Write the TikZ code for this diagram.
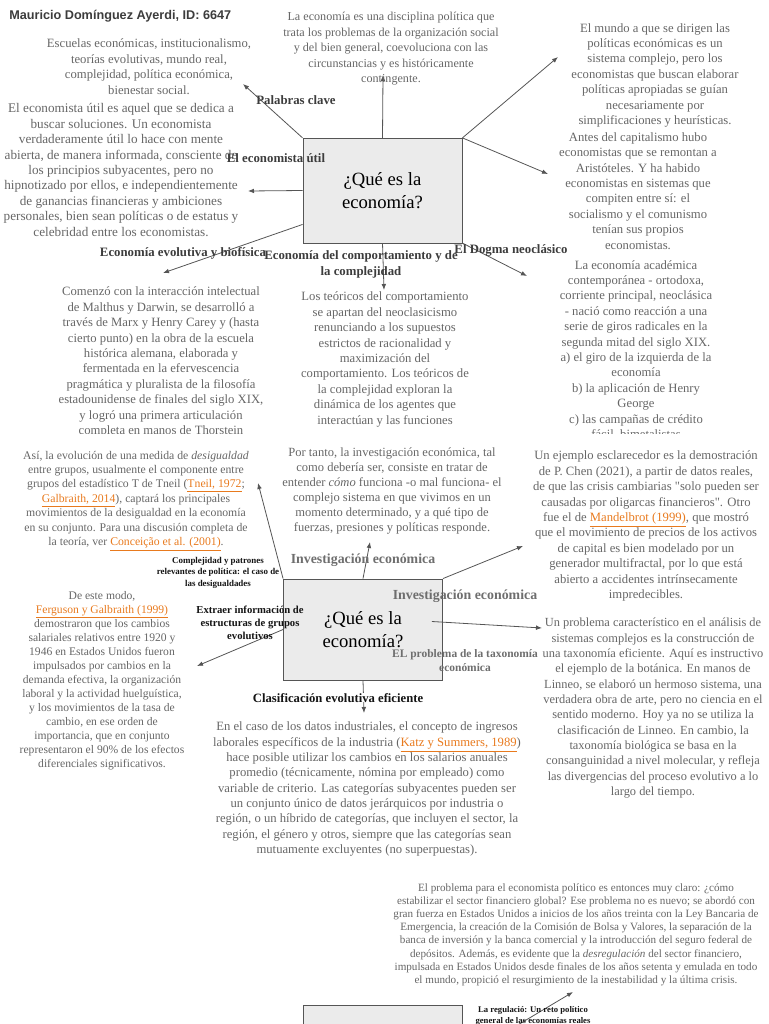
\documentclass[tikz,border=0pt]{standalone}
\usepackage{fontspec}
\setmainfont{Liberation Serif}
\newfontfamily\titlefont{Liberation Sans}
\usepackage{tikz}
\usetikzlibrary{arrows.meta,positioning,calc}
\definecolor{ecoText}{RGB}{102,102,102}
\definecolor{ecoKey}{RGB}{60,60,60}
\definecolor{ecoGris}{RGB}{110,110,110}
\definecolor{ecoDark}{RGB}{20,20,20}
\definecolor{ecoLink}{RGB}{232,122,30}
\definecolor{ecoFill}{RGB}{235,235,235}
\definecolor{ecoLine}{RGB}{85,85,85}
\newcommand{\enlace}[1]{\textcolor{ecoLink}{\underline{#1}}}

\begin{document}
\begin{tikzpicture}[x=0.75pt, y=-0.75pt,
    qbox/.style={draw=ecoLine, fill=ecoFill, minimum width=119.5pt, minimum height=78.5pt, inner sep=0, align=center, font=\fontsize{14}{17}\selectfont},
    txt/.style={inner sep=0, anchor=base, align=center, text=ecoText, font=\fontsize{9.5}{11.55}\selectfont},
    lbl/.style={inner sep=0, anchor=base, align=center, text=ecoKey, font=\bfseries\fontsize{9.6}{11.3}\selectfont},
    grislbl/.style={lbl, text=ecoGris, font=\bfseries\fontsize{10.4}{11.3}\selectfont},
    tinylbl/.style={lbl, text=ecoDark, font=\bfseries\fontsize{6.7}{8.6}\selectfont},
    arrow/.style={-{Latex[length=4.5pt,width=3.5pt]}, line width=0.6pt, ecoLine}
  ]
  \useasboundingbox (0,0) rectangle (768,1024);
  \clip (0,0) rectangle (768,1024);

  \node[anchor=base west, inner sep=0, text=ecoKey, font=\titlefont\bfseries\fontsize{9.5}{11}\selectfont] (autor) at (9,20) {Mauricio Domínguez Ayerdi, ID: 6647};

  \node[qbox] (q1) at (382.5,190.5) {¿Qué es la\\economía?};
  \node[qbox, minimum height=76pt] (q2) at (363,629.5) {¿Qué es la\\economía?};
  \node[qbox] (q3) at (382.5,1058) {};

  \coordinate (kwtip) at (243,84);
  \coordinate (deftip) at (383,75);
  \coordinate (mundotip) at (558,57);
  \coordinate (antestip) at (548,174);
  \coordinate (utiltip) at (248,191);
  \coordinate (evoltip) at (163,273);
  \coordinate (comptip) at (384,290);
  \coordinate (dogmatip) at (527,276);
  \coordinate (desigtip) at (258,483);
  \coordinate (invtip1) at (370,542);
  \coordinate (invtip2) at (523,546);
  \coordinate (taxsrc) at ($(q2.east)+(-11,-8)$);
  \coordinate (taxtip) at (542,628);
  \coordinate (grupotip) at (197,666);
  \coordinate (clastip) at (364,713);
  \coordinate (regtip) at (573,992);

  \draw[arrow] (q1.north west) -- (kwtip);
  \draw[arrow] (q1.north) -- (deftip);
  \draw[arrow] (q1.north east) -- (mundotip);
  \draw[arrow] (q1.north east) -- (antestip);
  \draw[arrow] (q1.west) -- (utiltip);
  \draw[arrow] (q1.203) -- (evoltip);
  \draw[arrow] (q1.south) -- (comptip);
  \draw[arrow] (q1.south east) -- (dogmatip);
  \draw[arrow] (q2.north west) -- (desigtip);
  \draw[arrow] (q2.north) -- (invtip1);
  \draw[arrow] (q2.north east) -- (invtip2);
  \draw[arrow] (taxsrc) -- (taxtip);
  \draw[arrow] (q2.west) -- (grupotip);
  \draw[arrow] (q2.south) -- (clastip);
  \draw[arrow] (q3.east) -- (regtip);

  \node[txt] (kwtext) at (149,94) {Escuelas económicas, institucionalismo,\\teorías evolutivas, mundo real,\\complejidad, política económica,\\bienestar social.};
  \node[txt, font=\fontsize{9.9}{11.55}\selectfont] (utiltext) at (121,236) {El economista útil es aquel que se dedica a\\buscar soluciones. Un economista\\verdaderamente útil lo hace con mente\\abierta, de manera informada, consciente de\\los principios subyacentes, pero no\\hipnotizado por ellos, e independientemente\\de ganancias financieras y ambiciones\\personales, bien sean políticas o de estatus y\\celebridad entre los economistas.};
  \node[txt, font=\fontsize{9.1}{11.55}\selectfont] (deftext) at (391,82.5) {La economía es una disciplina política que\\trata los problemas de la organización social\\y del bien general, coevoluciona con las\\circunstancias y es históricamente\\contingente.};
  \node[txt] (mundotext) at (655,124.5) {El mundo a que se dirigen las\\políticas económicas es un\\sistema complejo, pero los\\economistas que buscan elaborar\\políticas apropiadas se guían\\necesariamente por\\simplificaciones y heurísticas.};
  \node[txt] (antestext) at (638,249) {Antes del capitalismo hubo\\economistas que se remontan a\\Aristóteles. Y ha habido\\economistas en sistemas que\\compiten entre sí: el\\socialismo y el comunismo\\tenían sus propios\\economistas.};

  \begin{scope}
    \clip (0,0) rectangle (768,433);
    \node[txt] (malthus) at (161,434.5) {Comenzó con la interacción intelectual\\de Malthus y Darwin, se desarrolló a\\través de Marx y Henry Carey y (hasta\\cierto punto) en la obra de la escuela\\histórica alemana, elaborada y\\fermentada en la efervescencia\\pragmática y pluralista de la filosofía\\estadounidense de finales del siglo XIX,\\y logró una primera articulación\\completa en manos de Thorstein};
    \node[txt] (conducta) at (385,424) {Los teóricos del comportamiento\\se apartan del neoclasicismo\\renunciando a los supuestos\\estrictos de racionalidad y\\maximización del\\comportamiento. Los teóricos de\\la complejidad exploran la\\dinámica de los agentes que\\interactúan y las funciones};
    \node[txt] (ortodoxa) at (636,438.5) {La economía académica\\contemporánea - ortodoxa,\\corriente principal, neoclásica\\- nació como reacción a una\\serie de giros radicales en la\\segunda mitad del siglo XIX.\\a) el giro de la izquierda de la\\economía\\b) la aplicación de Henry\\George\\c) las campañas de crédito\\fácil, bimetalistas};
  \end{scope}

  \node[lbl] (kwlbl) at (296,104) {Palabras clave};
  \node[lbl] (utillbl) at (276,162) {El economista útil};
  \node[lbl] (evollbl) at (183,256) {Economía evolutiva y biofísica};
  \node[lbl] (complbl) at (361,275) {Economía del comportamiento y de\\la complejidad};
  \node[lbl] (dogmalbl) at (511,253) {El Dogma neoclásico};

  \node[txt, font=\fontsize{8.8}{10.8}\selectfont] (tneil) at (136,545.5) {Así, la evolución de una medida de \textit{desigualdad}\\entre grupos, usualmente el componente entre\\grupos del estadístico T de Tneil (\enlace{Tneil, 1972};\\\enlace{Galbraith, 2014}), captará los principales\\movimientos de la desigualdad en la economía\\en su conjunto. Para una discusión completa de\\la teoría, ver \enlace{Conceição et al. (2001)}.};
  \node[txt, font=\fontsize{9.4}{11.25}\selectfont] (portanto) at (392,531) {Por tanto, la investigación económica, tal\\como debería ser, consiste en tratar de\\entender \textit{cómo} funciona -o mal funciona- el\\complejo sistema en que vivimos en un\\momento determinado, y a qué tipo de\\fuerzas, presiones y políticas responde.};
  \node[txt] (chen) at (646,598.5) {Un ejemplo esclarecedor es la demostración\\de P. Chen (2021), a partir de datos reales,\\de que las crisis cambiarias \textquotedbl solo pueden ser\\causadas por oligarcas financieros\textquotedbl. Otro\\fue el de \enlace{Mandelbrot (1999)}, que mostró\\que el movimiento de precios de los activos\\de capital es bien modelado por un\\generador multifractal, por lo que está\\abierto a accidentes intrínsecamente\\impredecibles.};
  \node[txt, font=\fontsize{8.7}{10.5}\selectfont] (ferguson) at (102,767) {De este modo,\\\enlace{Ferguson y Galbraith (1999)}\\demostraron que los cambios\\salariales relativos entre 1920 y\\1946 en Estados Unidos fueron\\impulsados por cambios en la\\demanda efectiva, la organización\\laboral y la actividad huelguística,\\y los movimientos de la tasa de\\cambio, en ese orden de\\importancia, que en conjunto\\representaron el 90\% de los efectos\\diferenciales significativos.};
  \node[txt, font=\fontsize{9.3}{11.5}\selectfont] (linneo) at (653,795.5) {Un problema característico en el análisis de\\sistemas complejos es la construcción de\\una taxonomía eficiente. Aquí es instructivo\\el ejemplo de la botánica. En manos de\\Linneo, se elaboró un hermoso sistema, una\\verdadera obra de arte, pero no ciencia en el\\sentido moderno. Hoy ya no se utiliza la\\clasificación de Linneo. En cambio, la\\taxonomía biológica se basa en la\\consanguinidad a nivel molecular, y refleja\\las divergencias del proceso evolutivo a lo\\largo del tiempo.};
  \node[txt, font=\fontsize{9.5}{11.5}\selectfont] (katz) at (367,853.5) {En el caso de los datos industriales, el concepto de ingresos\\laborales específicos de la industria (\enlace{Katz y Summers, 1989})\\hace posible utilizar los cambios en los salarios anuales\\promedio (técnicamente, nómina por empleado) como\\variable de criterio. Las categorías subyacentes pueden ser\\un conjunto único de datos jerárquicos por industria o\\región, o un híbrido de categorías, que incluyen el sector, la\\región, el género y otros, siempre que las categorías sean\\mutuamente excluyentes (no superpuestas).};
  \node[txt, font=\fontsize{8.35}{9.9}\selectfont] (regtext) at (576,983.5) {El problema para el economista político es entonces muy claro: ¿cómo\\estabilizar el sector financiero global? Ese problema no es nuevo; se abordó con\\gran fuerza en Estados Unidos a inicios de los años treinta con la Ley Bancaria de\\Emergencia, la creación de la Comisión de Bolsa y Valores, la separación de la\\banca de inversión y la banca comercial y la introducción del seguro federal de\\depósitos. Además, es evidente que la \textit{desregulación} del sector financiero,\\impulsada en Estados Unidos desde finales de los años setenta y emulada en todo\\el mundo, propició el resurgimiento de la inestabilidad y la última crisis.};

  \node[tinylbl] (desiglbl) at (218,586) {Complejidad y patrones\\relevantes de política: el caso de\\las desigualdades};
  \node[tinylbl, font=\bfseries\fontsize{8}{9.4}\selectfont] (grupolbl) at (250,639) {Extraer información de\\estructuras de grupos\\evolutivos};
  \node[grislbl] (invlbl1) at (363,563) {Investigación económica};
  \node[grislbl] (invlbl2) at (465,599) {Investigación económica};
  \node[grislbl, font=\bfseries\fontsize{8.6}{10.5}\selectfont] (taxlbl) at (465,671) {EL problema de la taxonomía\\económica};
  \node[lbl, text=ecoDark, fill=white, font=\bfseries\fontsize{9.5}{11}\selectfont] (claslbl) at (338,702) {Clasificación evolutiva eficiente};
  \node[tinylbl, font=\bfseries\fontsize{6.5}{8.25}\selectfont] (reglbl) at (533,1023) {La regulació: Un reto político\\general de las economías reales};
\end{tikzpicture}
\end{document}
